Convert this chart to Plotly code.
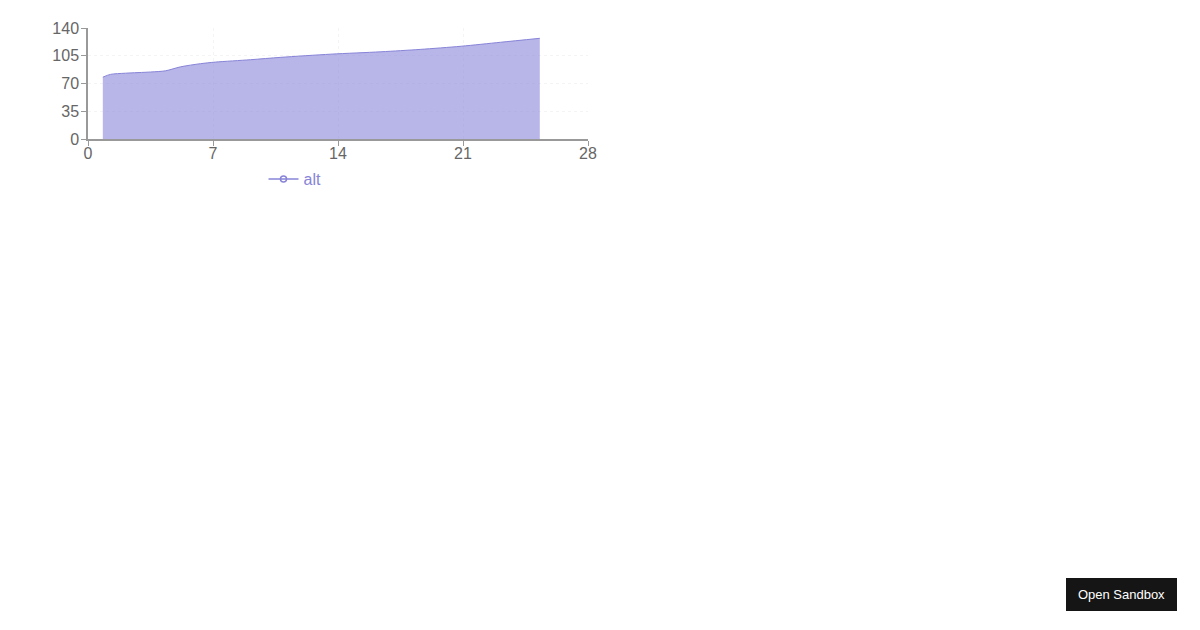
import plotly.graph_objects as go

x_vals = [0.83, 1.26, 2.1, 3.5, 4.34, 5.18, 6.3, 7.14, 9.1, 10.8, 13.6, 16.4, 18.6, 20.9, 23.1, 25.3]
alt_vals = [78, 81.5, 83, 84.5, 86, 91, 95, 97, 100, 103, 107, 110, 113, 117, 122, 127]
x_ticks = [0, 7, 14, 21, 28]
y_ticks = [0, 35, 70, 105, 140]
series_name = "alt"

line_color = "#8884d8"
fill_color = "rgba(136,132,216,0.6)"
tick_color = "#666666"

W, H = 1184, 614
L, T, PW, PH = 80, 20, 500, 111

fig = go.Figure()
fig.add_trace(go.Scatter(
    x=x_vals, y=alt_vals, mode="lines", fill="tozeroy",
    line=dict(color=line_color, width=1, shape="spline", smoothing=0.8),
    fillcolor=fill_color, showlegend=False, hoverinfo="x+y",
))
fig.add_trace(go.Scatter(
    x=[None], y=[None], mode="lines+markers", name=series_name,
    line=dict(color=line_color, width=1.5),
    marker=dict(symbol="circle-open", size=6, color=line_color, line=dict(width=1.5)),
    showlegend=True,
))

axis_common = dict(
    showline=True, linecolor="#999999", linewidth=1.5,
    ticks="outside", ticklen=5, tickcolor="#999999", tickwidth=1,
    tickfont=dict(family="Liberation Sans, Arial, sans-serif", size=16, color=tick_color),
    showgrid=True, gridcolor="#f4f4f4", gridwidth=1, griddash="3px,3px", zeroline=False,
)

fig.update_layout(
    width=W, height=H,
    margin=dict(l=L, r=W - L - PW, t=T, b=H - T - PH),
    paper_bgcolor="white", plot_bgcolor="white",
    font=dict(family="Liberation Sans, Arial, sans-serif", size=16, color=tick_color),
    xaxis=dict(range=[0, 28], tickvals=x_ticks, ticklabelstandoff=-6, **axis_common),
    yaxis=dict(range=[0, 140], tickvals=y_ticks, ticklabelstandoff=-1, **axis_common),
    legend=dict(
        orientation="h", x=0.414, xanchor="center", y=-0.207, yanchor="top",
        font=dict(color=line_color, size=16), itemwidth=30,
    ),
    annotations=[dict(
        text="Open Sandbox", xref="paper", yref="paper",
        x=(1121.5 - 8 - L) / PW, y=(T + PH - (594.5 - 8)) / PH,
        xanchor="center", yanchor="middle", showarrow=False,
        font=dict(color="white", size=13, family="Liberation Sans, Arial, sans-serif"),
        bgcolor="#151515", borderpad=8, bordercolor="#151515", borderwidth=1,
        width=93, height=15,
    )],
)

fig.write_html("out.html")
